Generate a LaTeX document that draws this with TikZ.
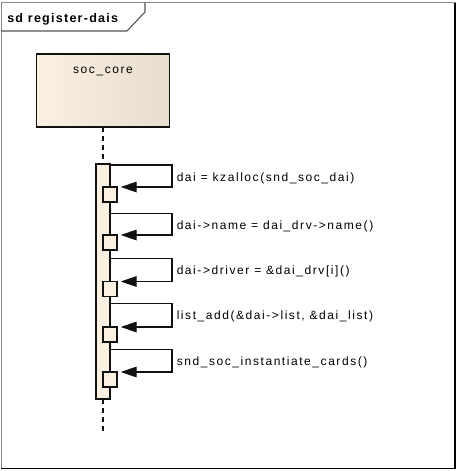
\documentclass[tikz,border=0pt]{standalone}
\usepackage{fontspec}
\setmainfont{Liberation Sans}
\newfontfamily\bodyfont[LetterSpace=13]{Liberation Sans}
\newfontfamily\titlefont[LetterSpace=10]{Liberation Sans Bold}
\usetikzlibrary{arrows.meta}
\definecolor{framegray}{HTML}{8A8A8A}
\definecolor{beige}{HTML}{FBF1E3}
\definecolor{beigedark}{HTML}{E6DDCD}
\definecolor{ink}{HTML}{111111}
\tikzset{
  txt/.style={font=\bodyfont\fontsize{9pt}{11pt}\selectfont, inner sep=0pt, text=black},
  lifelinestyle/.style={draw=ink, line width=0.9pt, dash pattern=on 3.75pt off 3pt},
  execbox/.style={draw=ink, fill=beige, line width=0.9pt, minimum width=10.5pt, minimum height=11.25pt, inner sep=0pt, outer sep=0pt, anchor=north west},
  msg/.style={draw=ink, line width=0.9pt, -{Triangle[length=12pt,width=8pt]}, shorten >=2.8pt},
}
\begin{document}
\begin{tikzpicture}[x=0.75pt,y=-0.75pt]
\useasboundingbox (0,0) rectangle (458,471);
% frame
\draw[framegray, line width=0.75pt] (1,2.5) rectangle (455,468.5);
\draw[black, line width=1.4pt] (455,2.5) -- (455,468.5) -- (1,468.5);
\draw[framegray!60!black, line width=0.8pt] (1,31) -- (127,31) -- (145,12) -- (145,2.5);
\node[anchor=base west, inner sep=0pt, font=\titlefont\fontsize{9.4pt}{11pt}\selectfont] (title) at (7,22) {sd register-dais};
% lifeline head
\node[draw=ink, line width=0.9pt, left color=beige, right color=beigedark, minimum width=99.75pt, minimum height=54.75pt, inner sep=0pt, outer sep=0pt] (core) at (103,90.5) {};
\node[txt, anchor=base] (corelabel) at (103,73) {soc\_core};
% activation bar
\node[draw=ink, fill=beige, line width=0.9pt, minimum width=10.5pt, minimum height=176.25pt, inner sep=0pt, outer sep=0pt] (act) at (103,281.5) {};
\coordinate (lend) at (103,432);
\draw[lifelinestyle] (core.south) -- (act.north);
\draw[lifelinestyle] (act.south) -- (lend);
% self messages
\foreach \i/\t/\b/\lab in {
  1/165/187/{dai = kzalloc(snd\_soc\_dai)},
  2/213.5/235/{dai->name = dai\_drv->name()},
  3/258.3/281.5/{dai->driver = \&dai\_drv[i]()},
  4/303.3/327/{list\_add(\&dai->list, \&dai\_list)},
  5/349.3/372/{snd\_soc\_instantiate\_cards()}} {
  \coordinate (s\i) at (110,\t);
  \coordinate (r\i) at (172,\t);
  \node[execbox] (b\i) at (103,\b) {};
  \draw[msg] (s\i) -- (r\i) -- (r\i |- b\i.north east) -- (b\i.north east);
  \node[txt, anchor=base west] (m\i) at (176.5,{\t+16}) {\lab};
}
\end{tikzpicture}
\end{document}
